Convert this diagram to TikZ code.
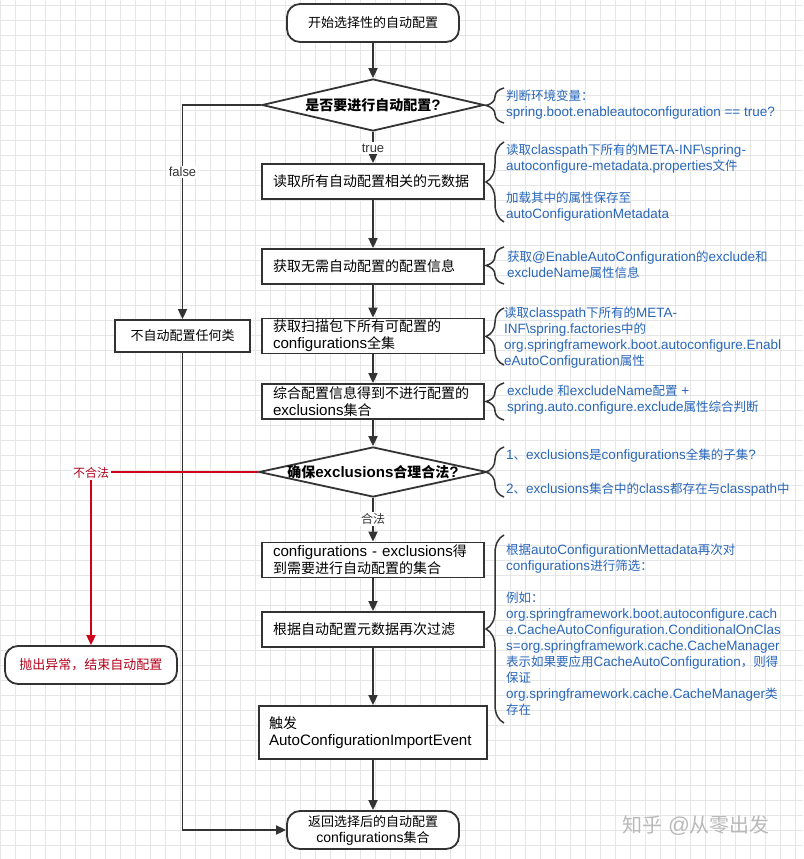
\documentclass[tikz,border=0pt]{standalone}
\usepackage{fontspec}
\setmainfont[Scale=1.08]{Liberation Sans}
\newfontfamily\cjkfont{Noto Sans CJK SC}
\XeTeXinterchartokenstate=1
\newXeTeXintercharclass\CJKcls
\newcount\cjkc
\cjkc="3000 \loop\XeTeXcharclass\cjkc=\CJKcls\relax\ifnum\cjkc<"303F \advance\cjkc by 1 \repeat
\cjkc="4E00 \loop\XeTeXcharclass\cjkc=\CJKcls\relax\ifnum\cjkc<"9FFF \advance\cjkc by 1 \repeat
\cjkc="FF00 \loop\XeTeXcharclass\cjkc=\CJKcls\relax\ifnum\cjkc<"FFEF \advance\cjkc by 1 \repeat
\XeTeXinterchartoks 0 \CJKcls = {\begingroup\cjkfont}
\XeTeXinterchartoks 4095 \CJKcls = {\begingroup\cjkfont}
\XeTeXinterchartoks \CJKcls 0 = {\endgroup}
\XeTeXinterchartoks \CJKcls 4095 = {\endgroup}
\usetikzlibrary{arrows.meta,shapes.geometric,decorations.pathreplacing}
\definecolor{ink}{HTML}{333333}
\definecolor{note}{HTML}{2866BA}
\definecolor{errline}{HTML}{D0021B}
\definecolor{errtext}{HTML}{B3001B}
\definecolor{gridc}{HTML}{E6E6E6}
\begin{document}
\begin{tikzpicture}[x=1pt,y=-1pt,
  every node/.style={inner sep=0pt},
  procbox/.style={draw=ink,line width=1.8pt,fill=white,minimum height=35pt,text width=200pt,align=left,inner xsep=11pt,font=\fontsize{14}{17}\selectfont},
  termbox/.style={draw=ink,line width=1.8pt,fill=white,rounded corners=13pt,minimum width=172pt,minimum height=38pt,align=center,font=\fontsize{13}{16}\selectfont},
  decide/.style={diamond,draw=ink,line width=1.8pt,fill=white,minimum width=222pt,minimum height=52pt},
  decidetext/.style={inner sep=0pt,font=\bfseries\fontsize{14}{17}\selectfont},
  flow/.style={draw=ink,line width=1.8pt,-{Triangle[length=10pt,width=9pt]}},
  errflow/.style={draw=errline,line width=1.8pt,-{Triangle[length=10pt,width=9pt]}},
  flowlabel/.style={fill=white,inner sep=1.5pt,text=ink,font=\fontsize{12}{14}\selectfont},
  notebrace/.style={draw=ink,line width=1.5pt,decorate,decoration={brace,amplitude=18pt}},
  notetxt/.style={text=note,align=left,font=\fontsize{12.5}{16}\selectfont}
]
% background and grid
\fill[white] (0,0) rectangle (803,859);
\useasboundingbox (0,0) rectangle (803,859);
\foreach \gx in {0,15,...,800} \draw[gridc,line width=0.6pt] (\gx,0) -- (\gx,859);
\foreach \gy in {5,20,...,855} \draw[gridc,line width=0.6pt] (0,\gy) -- (803,\gy);

% main nodes
\node[termbox] (start) at (373,23) {开始选择性的自动配置};
\node[decide,label={[decidetext]center:是否要进行自动配置?}] (d1) at (373,105) {};
\node[procbox] (b1) at (373,181.5) {读取所有自动配置相关的元数据};
\node[procbox] (b2) at (373,266.5) {获取无需自动配置的配置信息};
\node[procbox] (b3) at (373,336) {获取扫描包下所有可配置的\\configurations全集};
\node[procbox] (b4) at (373,401.5) {综合配置信息得到不进行配置的\\exclusions集合};
\node[decide,minimum width=228pt,minimum height=50pt,label={[decidetext]center:确保exclusions合理合法?}] (d2) at (373,472) {};
\node[procbox] (b5) at (373,560) {configurations - exclusions得\\到需要进行自动配置的集合};
\node[procbox] (b6) at (373,629.5) {根据自动配置元数据再次过滤};
\node[procbox,text width=208pt,inner xsep=10pt,minimum height=53pt] (b7) at (373,732.5) {触发\\AutoConfigurationImportEvent};
\node[termbox] (end) at (373,830) {返回选择后的自动配置\\configurations集合};
\node[procbox,text width=113pt,minimum height=32pt,align=center,font=\fontsize{13}{16}\selectfont] (noauto) at (182.5,336) {不自动配置任何类};
\node[termbox,text=errtext] (err) at (91,665) {抛出异常，结束自动配置};

% connectors
\draw[flow] (start) -- (d1);
\draw[flow] (d1) -- (b1);
\draw[flow] (b1) -- (b2);
\draw[flow] (b2) -- (b3);
\draw[flow] (b3) -- (b4);
\draw[flow] (b4) -- (d2);
\draw[flow] (d2) -- (b5);
\draw[flow] (b5) -- (b6);
\draw[flow] (b6) -- (b7);
\draw[flow] (b7) -- (end);
\draw[flow] (d1.west) -| (noauto.north);
\draw[flow] (noauto.south) |- (end.west);
\draw[errflow] (d2.west) -| (err.north);

% connector labels
\node[flowlabel] (ltrue) at (373,148) {true};
\node[flowlabel] (lfalse) at (182.5,172) {false};
\node[flowlabel] (lok) at (373,519) {合法};
\node[flowlabel,text=errtext] (lbad) at (91,473) {不合法};

% braces
\draw[notebrace] (504,123) -- (504,88);
\draw[notebrace] (504,222) -- (504,142);
\draw[notebrace] (504,284) -- (504,247);
\draw[notebrace] (504,365) -- (504,308);
\draw[notebrace] (504,420) -- (504,383);
\draw[notebrace] (504,497) -- (504,447);
\draw[notebrace] (504,723) -- (504,535);

% notes
\node[notetxt,anchor=west] (n1) at (506,105) {判断环境变量：\\spring.boot.enableautoconfiguration == true?};
\node[notetxt,anchor=west] (n2) at (506,183) {读取classpath下所有的META-INF\textbackslash spring-\\autoconfigure-metadata.properties文件\\[16pt]加载其中的属性保存至\\autoConfigurationMetadata};
\node[notetxt,anchor=west] (n3) at (507,265) {获取@EnableAutoConfiguration的exclude和\\excludeName属性信息};
\node[notetxt,anchor=west] (n4) at (504,338) {读取classpath下所有的META-\\INF\textbackslash spring.factories中的\\org.springframework.boot.autoconfigure.Enabl\\eAutoConfiguration属性};
\node[notetxt,anchor=west] (n5) at (507,400) {exclude 和excludeName配置 +\\spring.auto.configure.exclude属性综合判断};
\node[notetxt,anchor=west] (n6a) at (506,456) {1、exclusions是configurations全集的子集?};
\node[notetxt,anchor=west] (n6b) at (506,490) {2、exclusions集合中的class都存在与classpath中};
\node[notetxt,anchor=west] (n7) at (506,629.5) {根据autoConfigurationMettadata再次对\\configurations进行筛选：\\[16pt]例如：\\org.springframework.boot.autoconfigure.cach\\e.CacheAutoConfiguration.ConditionalOnClas\\s=org.springframework.cache.CacheManager\\表示如果要应用CacheAutoConfiguration，则得\\保证\\org.springframework.cache.CacheManager类\\存在};

% watermark
\node[text=gray!55,font=\fontsize{20}{22}\selectfont] (wm) at (696,826) {知乎 @从零出发};
\end{tikzpicture}
\end{document}
